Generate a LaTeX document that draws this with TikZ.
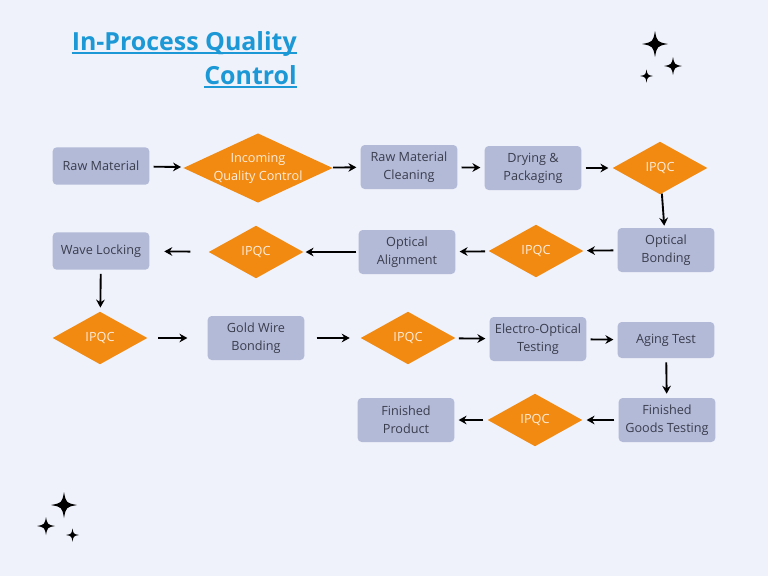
\documentclass[tikz,border=0pt]{standalone}
\usepackage{fontspec}
\setmainfont{Open Sans}
\usetikzlibrary{shapes.geometric, arrows.meta, positioning}

\definecolor{bgcol}{HTML}{EFF2FA}
\definecolor{boxcol}{HTML}{B3BAD8}
\definecolor{ipqccol}{HTML}{F28A12}
\definecolor{titlecol}{HTML}{1B98D5}
\definecolor{txtcol}{HTML}{3A3D4C}

\tikzset{
    sparkle/.pic={
        \fill (1,0) .. controls (0.16,0.16) .. (0,1)
              .. controls (-0.16,0.16) .. (-1,0)
              .. controls (-0.16,-0.16) .. (0,-1)
              .. controls (0.16,-0.16) .. (1,0) -- cycle;
    }
}

\begin{document}
\begin{tikzpicture}[
    x=0.75pt, y=-0.75pt,
    stepbox/.style={
        rectangle, fill=boxcol, rounded corners=3pt,
        minimum width=72.5pt, minimum height=33pt,
        text=txtcol, align=center, inner sep=1pt,
        font=\fontsize{9.5}{13.5}\selectfont
    },
    check/.style={
        diamond, fill=ipqccol, inner sep=0pt,
        minimum width=71pt, minimum height=39.5pt,
        text=white!85!ipqccol, align=center,
        font=\fontsize{9.5}{13.5}\selectfont
    },
    heading/.style={
        anchor=base east, inner sep=0pt, text=titlecol,
        font=\fontsize{18.7}{22}\selectfont\bfseries
    },
    uline/.style={titlecol, line width=1.6pt},
    arr/.style={-{Stealth[length=6pt, width=6.5pt, inset=2pt]}, line width=1.4pt, black,
        shorten <=3pt, shorten >=3pt},
]

% background
\fill[bgcol] (0,0) rectangle (768,576);
\useasboundingbox (0,0) rectangle (768,576);

% title
\node[heading] (titlea) at (297,50) {In-Process Quality};
\node[heading] (titleb) at (297,84) {Control};
\draw[uline] ([yshift=-2.5pt]titlea.base west) -- ([yshift=-2.5pt]titlea.base east);
\draw[uline] ([yshift=-2.5pt]titleb.base west) -- ([yshift=-2.5pt]titleb.base east);

% sparkles
\pic[scale=13] at (655,44) {sparkle};
\pic[scale=9] at (673,66) {sparkle};
\pic[scale=6.5] at (646.5,76) {sparkle};
\pic[scale=13] at (64,505) {sparkle};
\pic[scale=9] at (46,526) {sparkle};
\pic[scale=6.5] at (72.5,535) {sparkle};

% Row 1
\node[stepbox, minimum height=28pt] (raw) at (101,166) {Raw Material};
\node[check, shape aspect=2.15, minimum width=112pt, minimum height=52pt,
      inner xsep=-7pt, inner ysep=-2pt]
    (iqc) at (258,168) {Incoming\\Quality Control};
\node[stepbox] (clean) at (409,167) {Raw Material\\Cleaning};
\node[stepbox] (dry) at (533,168) {Drying \&\\Packaging};
\node[check] (ipqca) at (660,168) {IPQC};

% Row 2
\node[stepbox] (bond) at (666,250) {Optical\\Bonding};
\node[check] (ipqcb) at (536,251) {IPQC};
\node[stepbox] (align) at (407,252) {Optical\\Alignment};
\node[check] (ipqcc) at (256,252) {IPQC};
\node[stepbox, minimum height=28pt] (wave) at (101,251) {Wave Locking};

% Row 3
\node[check] (ipqcd) at (100,338) {IPQC};
\node[stepbox] (gold) at (256,338) {Gold Wire\\Bonding};
\node[check] (ipqce) at (408,338) {IPQC};
\node[stepbox] (eot) at (538,339) {Electro-Optical\\Testing};
\node[stepbox, minimum height=27pt] (aging) at (666,340) {Aging Test};

% Row 4
\node[stepbox] (fgt) at (667,420) {Finished\\Goods Testing};
\node[check] (ipqcf) at (535,420) {IPQC};
\node[stepbox] (prod) at (406,420) {Finished\\Product};

% Arrows
\draw[arr] (raw) -- (iqc);
\draw[arr, shorten <=1pt] (iqc) -- (clean);
\draw[arr] (clean) -- (dry);
\draw[arr] (dry) -- (ipqca);
\draw[arr, shorten <=0pt, shorten >=1.5pt] (ipqca) -- (bond);
\draw[arr] (bond) -- (ipqcb);
\draw[arr] (ipqcb) -- (align);
\draw[arr, shorten <=1.5pt, shorten >=1.5pt] (align) -- (ipqcc);
\draw[arr, shorten <=14pt, shorten >=11pt] (ipqcc) -- (wave);
\draw[arr] (wave) -- (ipqcd);
\draw[arr, shorten <=8pt, shorten >=15pt] (ipqcd) -- (gold);
\draw[arr, shorten <=9pt, shorten >=8pt] (gold) -- (ipqce);
\draw[arr] (ipqce) -- (eot);
\draw[arr] (eot) -- (aging);
\draw[arr] (aging) -- (fgt);
\draw[arr] (fgt) -- (ipqcf);
\draw[arr] (ipqcf) -- (prod);

\end{tikzpicture}
\end{document}
